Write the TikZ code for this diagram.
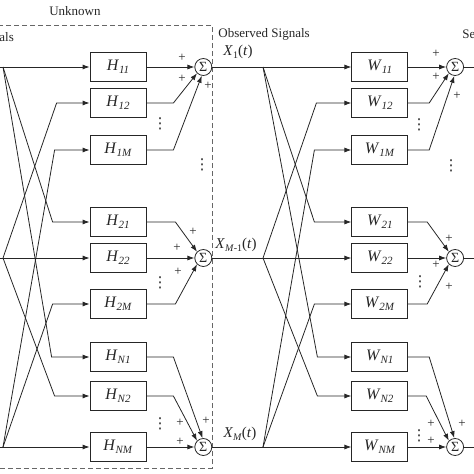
\documentclass[tikz,border=0pt]{standalone}
\usepackage{fontspec}
\setmainfont{Liberation Serif}
\newfontfamily\symfont{DejaVu Sans}
\usepackage{tikz}
\usetikzlibrary{positioning, arrows.meta}
\newcommand{\sig}[2]{\textit{#1}\raisebox{-0.4ex}{\fontsize{11}{11}\selectfont\textit{#2}}}
\newcommand{\obs}[1]{\textit{X}\raisebox{-0.4ex}{\fontsize{10}{10}\selectfont #1}(\textit{t})}

\begin{document}
\begin{tikzpicture}[
        x=1pt, y=-1pt,
        black!85, line width=0.8pt,
        >={Latex[length=7pt, width=5pt]},
        blk/.style={rectangle, draw, minimum width=56pt, minimum height=29pt, inner sep=0pt, font=\fontsize{16}{18}\selectfont},
        sumnode/.style={circle, draw, minimum size=17pt, inner sep=0pt, font=\fontsize{14}{14}\selectfont},
        plus/.style={inner sep=0pt, font=\fontsize{13}{13}\selectfont},
        dots/.style={inner sep=0pt, font=\symfont\fontsize{15}{15}\selectfont},
        title/.style={inner sep=0pt, font=\fontsize{13}{13}\selectfont},
        obslabel/.style={inner sep=0pt, font=\fontsize{15}{15}\selectfont},
]
        \useasboundingbox (0,0) rectangle (474,474);
        \clip (0,0) rectangle (474,474);

        \node[title] (unknown) at (75,11) {Unknown};
        \node[title, anchor=west] (srctitle) at (-1,37) {als};
        \node[title, anchor=west] (obstitle) at (218,34) {Observed Signals};
        \node[title, anchor=west] (septitle) at (462,34) {Se};
        \draw[black!60, dash pattern=on 5pt off 3pt] (-5,25) rectangle (212,468);

        \node[blk] (h11) at (118,67) {\sig{H}{11}};
        \node[blk] (h12) at (118,103) {\sig{H}{12}};
        \node[blk] (h1m) at (118,150) {\sig{H}{1M}};
        \node[blk] (h21) at (118,222) {\sig{H}{21}};
        \node[blk] (h22) at (118,258) {\sig{H}{22}};
        \node[blk] (h2m) at (118,304) {\sig{H}{2M}};
        \node[blk] (hn1) at (118,357) {\sig{H}{N1}};
        \node[blk] (hn2) at (118,396) {\sig{H}{N2}};
        \node[blk] (hnm) at (118,447) {\sig{H}{NM}};

        \node[blk] (w11) [right=205pt of h11] {\sig{W}{11}};
        \node[blk] (w12) [right=205pt of h12] {\sig{W}{12}};
        \node[blk] (w1m) [right=205pt of h1m] {\sig{W}{1M}};
        \node[blk] (w21) [right=205pt of h21] {\sig{W}{21}};
        \node[blk] (w22) [right=205pt of h22] {\sig{W}{22}};
        \node[blk] (w2m) [right=205pt of h2m] {\sig{W}{2M}};
        \node[blk] (wn1) [right=205pt of hn1] {\sig{W}{N1}};
        \node[blk] (wn2) [right=205pt of hn2] {\sig{W}{N2}};
        \node[blk] (wnm) [right=205pt of hnm] {\sig{W}{NM}};

        \node[sumnode] (sum1) [right=48pt of h11] {Σ};
        \node[sumnode] (sum2) [right=48pt of h22] {Σ};
        \node[sumnode] (sumn) [right=48pt of hnm] {Σ};
        \node[sumnode] (rsum1) [right=38pt of w11] {Σ};
        \node[sumnode] (rsum2) [right=38pt of w22] {Σ};
        \node[sumnode] (rsumn) [right=38pt of wnm] {Σ};

        \coordinate (src1) at (-5,67);
        \coordinate (src2) at (-5,258);
        \coordinate (src3) at (-5,447);
        \coordinate (f1) at (3,67);
        \coordinate (f2) at (3,258);
        \coordinate (f3) at (3,447);
        \coordinate (x1) at (263,67);
        \coordinate (x2) at (263,258);
        \coordinate (x3) at (263,447);
        \coordinate (out1) at (480,67);
        \coordinate (out2) at (480,258);
        \coordinate (out3) at (480,447);

        \node[obslabel] (x1lbl) at (238,52) {\obs{1}};
        \node[obslabel] (x2lbl) at (236,245) {\obs{\textit{M}-1}};
        \node[obslabel] (x3lbl) at (240,434) {\obs{\textit{M}}};

        \draw (src1) -- (f1);
        \draw (src2) -- (f2);
        \draw (src3) -- (f3);
        \draw[->] (f1) -- (h11.west);
        \draw[->] (f1) -- ([xshift=-37pt]h21.west) -- (h21.west);
        \draw[->] (f1) -- ([xshift=-38pt]hn1.west) -- (hn1.west);
        \draw[->] (f2) -- ([xshift=-33pt]h12.west) -- (h12.west);
        \draw[->] (f2) -- (h22.west);
        \draw[->] (f2) -- ([xshift=-35pt]hn2.west) -- (hn2.west);
        \draw[->] (f3) -- ([xshift=-35pt]h1m.west) -- (h1m.west);
        \draw[->] (f3) -- ([xshift=-37pt]h2m.west) -- (h2m.west);
        \draw[->] (f3) -- (hnm.west);

        \draw[->] (h11.east) -- (sum1.west);
        \draw[->] (h12.east) -- ([xshift=27pt]h12.east) -- (sum1.south west);
        \draw[->] (h1m.east) -- ([xshift=27pt]h1m.east) -- (sum1.-100);
        \draw[->] (h21.east) -- ([xshift=29pt]h21.east) -- (sum2.north west);
        \draw[->] (h22.east) -- (sum2.west);
        \draw[->] (h2m.east) -- ([xshift=29pt]h2m.east) -- (sum2.south west);
        \draw[->] (hn1.east) -- ([xshift=27pt]hn1.east) -- (sumn.95);
        \draw[->] (hn2.east) -- ([xshift=27pt]hn2.east) -- (sumn.north west);
        \draw[->] (hnm.east) -- (sumn.west);

        \draw (sum1.east) -- (x1);
        \draw (sum2.east) -- (x2);
        \draw (sumn.east) -- (x3);
        \draw[->] (x1) -- (w11.west);
        \draw[->] (x1) -- ([xshift=-37pt]w21.west) -- (w21.west);
        \draw[->] (x1) -- ([xshift=-34pt]wn1.west) -- (wn1.west);
        \draw[->] (x2) -- ([xshift=-35pt]w12.west) -- (w12.west);
        \draw[->] (x2) -- (w22.west);
        \draw[->] (x2) -- ([xshift=-34pt]wn2.west) -- (wn2.west);
        \draw[->] (x3) -- ([xshift=-37pt]w1m.west) -- (w1m.west);
        \draw[->] (x3) -- ([xshift=-37pt]w2m.west) -- (w2m.west);
        \draw[->] (x3) -- (wnm.west);

        \draw[->] (w11.east) -- (rsum1.west);
        \draw[->] (w12.east) -- ([xshift=21pt]w12.east) -- (rsum1.south west);
        \draw[->] (w1m.east) -- ([xshift=21pt]w1m.east) -- (rsum1.-95);
        \draw[->] (w21.east) -- ([xshift=19pt]w21.east) -- (rsum2.north west);
        \draw[->] (w22.east) -- (rsum2.west);
        \draw[->] (w2m.east) -- ([xshift=19pt]w2m.east) -- (rsum2.south west);
        \draw[->] (wn1.east) -- ([xshift=21pt]wn1.east) -- (rsumn.95);
        \draw[->] (wn2.east) -- ([xshift=18pt]wn2.east) -- (rsumn.north west);
        \draw[->] (wnm.east) -- (rsumn.west);

        \draw (rsum1.east) -- (out1);
        \draw (rsum2.east) -- (out2);
        \draw (rsumn.east) -- (out3);

        \node[plus] (p11) at (182,58) {+};
        \node[plus] (p12) at (182,79) {+};
        \node[plus] (p1m) at (208,86) {+};
        \node[plus] (p21) at (193,232) {+};
        \node[plus] (p22) at (177,248) {+};
        \node[plus] (p2m) at (178,272) {+};
        \node[plus] (pn1) at (206,421) {+};
        \node[plus] (pn2) at (180,423) {+};
        \node[plus] (pnm) at (180,442) {+};
        \node[plus] (q11) at (436,54) {+};
        \node[plus] (q12) at (436,77) {+};
        \node[plus] (q1m) at (457,96) {+};
        \node[plus] (q21) at (449,239) {+};
        \node[plus] (q22) at (436,265) {+};
        \node[plus] (q2m) at (449,287) {+};
        \node[plus] (qn1) at (462,424) {+};
        \node[plus] (qn2) at (431,424) {+};
        \node[plus] (qnm) at (431,441) {+};

        \node[dots] (hd1) at (160,124) {⋮};
        \node[dots] (hd2) at (160,283) {⋮};
        \node[dots] (hdn) at (160,424) {⋮};
        \node[dots] (sd) at (202,165) {⋮};
        \node[dots] (wd1) at (419,125) {⋮};
        \node[dots] (wd2) at (420,282) {⋮};
        \node[dots] (wdn) at (419,436) {⋮};
        \node[dots] (rsd) at (451,166) {⋮};
\end{tikzpicture}
\end{document}
